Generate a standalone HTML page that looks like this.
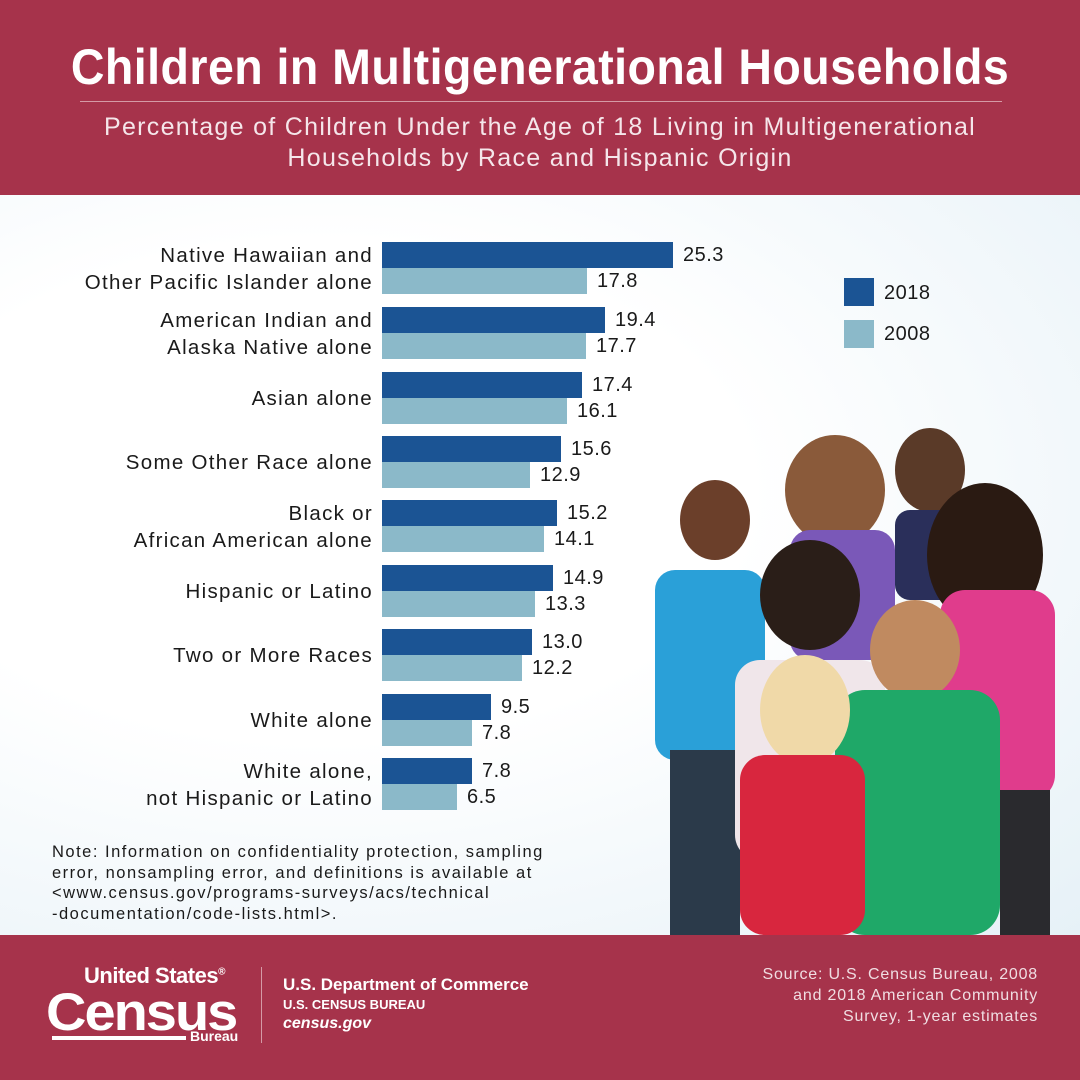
<!DOCTYPE html>
<html><head><meta charset="utf-8"><style>
*{margin:0;padding:0;box-sizing:border-box}
body{width:1080px;height:1080px;overflow:hidden;font-family:"Liberation Sans",sans-serif;position:relative;background:#fff}
.hdr{position:absolute;left:0;top:0;width:1080px;height:195px;background:#a6334b;color:#fff;text-align:center}
.hdr h1{position:absolute;top:38px;width:100%;font-size:50px;font-weight:bold;letter-spacing:0.5px;transform:scaleX(0.93)}
.hdr .rule{position:absolute;left:80px;top:101px;width:922px;height:1px;background:#d59aa6}
.hdr p{position:absolute;top:112px;width:100%;font-size:25px;line-height:31px;color:#f5e6ea;letter-spacing:1.3px}
.body{position:absolute;left:0;top:195px;width:1080px;height:740px;background:radial-gradient(ellipse at 30% 40%,#ffffff 40%,#e6f1f7 100%)}
.ftr{position:absolute;left:0;top:935px;width:1080px;height:145px;background:#a6334b;color:#fff}
.lbl{position:absolute;right:707px;text-align:right;font-size:20.5px;line-height:27px;color:#1a1a1a;letter-spacing:1.3px}
.bar{position:absolute;left:382px;height:26px}
.d{background:#1b5494}.l{background:#8bb9c9}
.v{position:absolute;font-size:20px;color:#1a1a1a;line-height:26px;letter-spacing:0.5px}
.note{position:absolute;left:52px;top:842px;font-size:16.5px;line-height:20.5px;color:#1a1a1a;letter-spacing:1.5px}
</style></head><body>
<div class="hdr"><h1>Children in Multigenerational Households</h1><div class="rule"></div>
<p>Percentage of Children Under the Age of 18 Living in Multigenerational<br>Households by Race and Hispanic Origin</p></div>
<div class="body"></div>

<svg style="position:absolute;left:640px;top:410px" width="440" height="525">
<ellipse cx="75" cy="110" rx="35" ry="40" fill="#6b3f2a"/>
<rect x="15" y="160" width="110" height="190" rx="20" fill="#2aa0d8"/>
<rect x="30" y="340" width="70" height="185" fill="#2b3a4a"/>
<ellipse cx="195" cy="80" rx="50" ry="55" fill="#8a5a3a"/>
<rect x="150" y="120" width="105" height="130" rx="20" fill="#7a58b8"/>
<ellipse cx="290" cy="60" rx="35" ry="42" fill="#5a3a28"/>
<rect x="255" y="100" width="80" height="90" rx="15" fill="#2a2f5a"/>
<ellipse cx="345" cy="145" rx="58" ry="72" fill="#2a1a12"/>
<rect x="300" y="180" width="115" height="210" rx="25" fill="#e03c8c"/>
<rect x="360" y="380" width="50" height="145" fill="#2a2a2e"/>
<ellipse cx="170" cy="185" rx="50" ry="55" fill="#2a1e18"/>
<rect x="95" y="250" width="150" height="200" rx="25" fill="#f0e6ea"/>
<ellipse cx="275" cy="240" rx="45" ry="50" fill="#c08a60"/>
<rect x="195" y="280" width="165" height="245" rx="30" fill="#1fa868"/>
<ellipse cx="165" cy="300" rx="45" ry="55" fill="#f0d9a8"/>
<rect x="100" y="345" width="125" height="180" rx="25" fill="#d8263e"/>
</svg>

<div class="lbl" style="top:242px">Native Hawaiian and<br>Other Pacific Islander alone</div>
<div class="lbl" style="top:307px">American Indian and<br>Alaska Native alone</div>
<div class="lbl" style="top:385px">Asian alone</div>
<div class="lbl" style="top:449px">Some Other Race alone</div>
<div class="lbl" style="top:500px">Black or<br>African American alone</div>
<div class="lbl" style="top:578px">Hispanic or Latino</div>
<div class="lbl" style="top:642px">Two or More Races</div>
<div class="lbl" style="top:707px">White alone</div>
<div class="lbl" style="top:758px">White alone,<br>not Hispanic or Latino</div>

<div class="bar d" style="top:242px;width:291px"></div><div class="v" style="top:242px;left:683px">25.3</div>
<div class="bar l" style="top:268px;width:205px"></div><div class="v" style="top:268px;left:597px">17.8</div>
<div class="bar d" style="top:307px;width:223px"></div><div class="v" style="top:307px;left:615px">19.4</div>
<div class="bar l" style="top:333px;width:204px"></div><div class="v" style="top:333px;left:596px">17.7</div>
<div class="bar d" style="top:372px;width:200px"></div><div class="v" style="top:372px;left:592px">17.4</div>
<div class="bar l" style="top:398px;width:185px"></div><div class="v" style="top:398px;left:577px">16.1</div>
<div class="bar d" style="top:436px;width:179px"></div><div class="v" style="top:436px;left:571px">15.6</div>
<div class="bar l" style="top:462px;width:148px"></div><div class="v" style="top:462px;left:540px">12.9</div>
<div class="bar d" style="top:500px;width:175px"></div><div class="v" style="top:500px;left:567px">15.2</div>
<div class="bar l" style="top:526px;width:162px"></div><div class="v" style="top:526px;left:554px">14.1</div>
<div class="bar d" style="top:565px;width:171px"></div><div class="v" style="top:565px;left:563px">14.9</div>
<div class="bar l" style="top:591px;width:153px"></div><div class="v" style="top:591px;left:545px">13.3</div>
<div class="bar d" style="top:629px;width:150px"></div><div class="v" style="top:629px;left:542px">13.0</div>
<div class="bar l" style="top:655px;width:140px"></div><div class="v" style="top:655px;left:532px">12.2</div>
<div class="bar d" style="top:694px;width:109px"></div><div class="v" style="top:694px;left:501px">9.5</div>
<div class="bar l" style="top:720px;width:90px"></div><div class="v" style="top:720px;left:482px">7.8</div>
<div class="bar d" style="top:758px;width:90px"></div><div class="v" style="top:758px;left:482px">7.8</div>
<div class="bar l" style="top:784px;width:75px"></div><div class="v" style="top:784px;left:467px">6.5</div>

<div style="position:absolute;left:844px;top:278px;width:30px;height:28px;background:#1b5494"></div>
<div class="v" style="left:884px;top:280px">2018</div>
<div style="position:absolute;left:844px;top:320px;width:30px;height:28px;background:#8bb9c9"></div>
<div class="v" style="left:884px;top:321px">2008</div>

<div class="note">Note: Information on confidentiality protection, sampling<br>error, nonsampling error, and definitions is available at<br>&lt;www.census.gov/programs-surveys/acs/technical<br>-documentation/code-lists.html&gt;.</div>

<div class="ftr">
<div style="position:absolute;left:84px;top:28px;font-size:22px;font-weight:bold;letter-spacing:-0.5px">United States<sup style="font-size:10px">®</sup></div>
<div style="position:absolute;left:46px;top:44px;font-size:56px;font-weight:bold;letter-spacing:-2px;transform:scaleY(0.95)">Census</div>
<div style="position:absolute;left:52px;top:101px;width:134px;height:4px;background:#fff"></div>
<div style="position:absolute;left:190px;top:93px;font-size:14px;font-weight:bold">Bureau</div>
<div style="position:absolute;left:261px;top:32px;width:1px;height:76px;background:#d59aa6"></div>
<div style="position:absolute;left:283px;top:40px;font-size:17px;font-weight:bold">U.S. Department of Commerce</div>
<div style="position:absolute;left:283px;top:62px;font-size:13px;font-weight:bold">U.S. CENSUS BUREAU</div>
<div style="position:absolute;left:283px;top:80px;font-size:16px;font-weight:bold;font-style:italic">census.gov</div>
<div style="position:absolute;right:42px;top:29px;text-align:right;font-size:16px;line-height:21px;color:#f0dde2;letter-spacing:0.8px">Source: U.S. Census Bureau, 2008<br>and 2018 American Community<br>Survey, 1-year estimates</div>
</div>
</body></html>
